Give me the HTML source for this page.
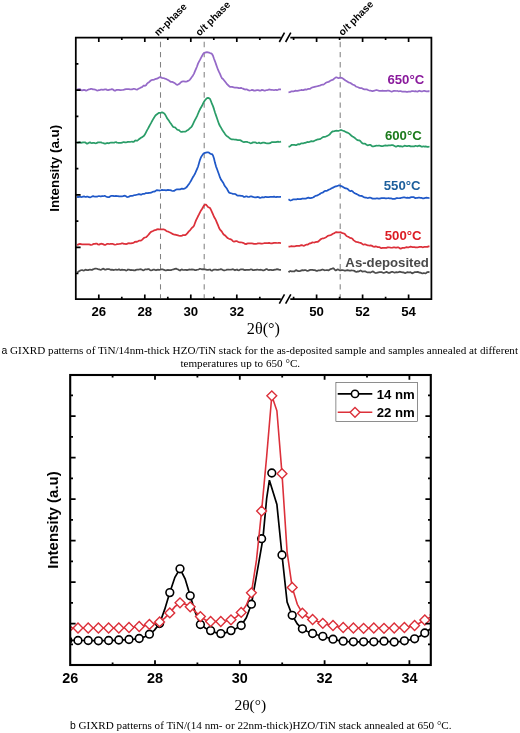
<!DOCTYPE html>
<html><head><meta charset="utf-8"><title>GIXRD patterns</title>
<style>html,body{margin:0;padding:0;background:#fff}svg{display:block}</style>
</head><body>
<svg width="520" height="733" viewBox="0 0 520 733">
<rect width="520" height="733" fill="#fff"/>
<defs><clipPath id="cb"><rect x="70.2" y="375.0" width="360.6" height="290.0"/></clipPath></defs>
<g id="plot-a">
<path d="M160.5,41.8 V298" stroke="#828282" stroke-width="1.05" stroke-dasharray="5.4,4.7" fill="none"/>
<path d="M204.2,41.8 V298" stroke="#828282" stroke-width="1.05" stroke-dasharray="5.4,4.7" fill="none"/>
<path d="M340.2,41.8 V298" stroke="#828282" stroke-width="1.05" stroke-dasharray="5.4,4.7" fill="none"/>
<path d="M77.0,272.56 L78.0,272.01 L79.0,271.27 L80.0,270.65 L81.0,270.25 L82.0,270.03 L83.0,270.35 L84.0,270.53 L85.0,269.95 L86.0,269.72 L87.0,270.09 L88.0,270.19 L89.0,269.83 L90.0,269.53 L91.0,269.81 L92.0,269.86 L93.0,269.35 L94.0,269.00 L95.0,268.71 L96.0,268.55 L97.0,268.77 L98.0,269.09 L99.0,269.30 L100.0,269.69 L101.0,269.88 L102.0,269.25 L103.0,268.65 L104.0,269.07 L105.0,269.70 L106.0,269.53 L107.0,269.12 L108.0,269.11 L109.0,269.15 L110.0,269.49 L111.0,269.90 L112.0,269.68 L113.0,269.80 L114.0,270.03 L115.0,269.72 L116.0,269.66 L117.0,269.83 L118.0,269.60 L119.0,269.34 L120.0,269.86 L121.0,270.05 L122.0,269.62 L123.0,269.86 L124.0,269.89 L125.0,269.97 L126.0,270.62 L127.0,270.27 L128.0,269.49 L129.0,269.71 L130.0,270.01 L131.0,269.98 L132.0,270.02 L133.0,270.04 L134.0,270.34 L135.0,270.37 L136.0,269.86 L137.0,269.65 L138.0,269.68 L139.0,269.52 L140.0,269.23 L141.0,269.29 L142.0,269.79 L143.0,270.35 L144.0,270.17 L145.0,269.34 L146.0,269.35 L147.0,269.50 L148.0,269.04 L149.0,269.20 L150.0,269.92 L151.0,270.42 L152.0,270.26 L153.0,269.73 L154.0,269.54 L155.0,269.93 L156.0,270.27 L157.0,269.87 L158.0,269.66 L159.0,269.86 L160.0,269.78 L161.0,269.47 L162.0,269.31 L163.0,269.48 L164.0,269.85 L165.0,270.31 L166.0,270.29 L167.0,270.05 L168.0,269.99 L169.0,270.01 L170.0,270.15 L171.0,270.12 L172.0,269.77 L173.0,269.47 L174.0,269.34 L175.0,268.79 L176.0,268.59 L177.0,269.09 L178.0,269.41 L179.0,270.13 L180.0,270.56 L181.0,269.79 L182.0,269.43 L183.0,269.86 L184.0,270.00 L185.0,269.79 L186.0,269.82 L187.0,270.14 L188.0,269.94 L189.0,269.47 L190.0,269.57 L191.0,269.59 L192.0,269.44 L193.0,269.52 L194.0,269.70 L195.0,270.06 L196.0,270.09 L197.0,269.76 L198.0,269.56 L199.0,269.23 L200.0,268.75 L201.0,269.02 L202.0,269.29 L203.0,269.19 L204.0,269.37 L205.0,269.43 L206.0,269.59 L207.0,269.78 L208.0,269.98 L209.0,269.72 L210.0,269.48 L211.0,270.31 L212.0,270.64 L213.0,270.04 L214.0,269.68 L215.0,269.53 L216.0,269.65 L217.0,269.99 L218.0,269.85 L219.0,269.58 L220.0,269.42 L221.0,269.21 L222.0,269.50 L223.0,270.10 L224.0,270.28 L225.0,270.26 L226.0,269.97 L227.0,269.57 L228.0,269.54 L229.0,269.64 L230.0,269.75 L231.0,269.73 L232.0,269.47 L233.0,269.17 L234.0,269.68 L235.0,270.32 L236.0,269.81 L237.0,269.48 L238.0,270.18 L239.0,270.31 L240.0,269.64 L241.0,269.48 L242.0,269.34 L243.0,269.31 L244.0,269.93 L245.0,270.15 L246.0,269.87 L247.0,269.80 L248.0,269.92 L249.0,269.85 L250.0,269.61 L251.0,269.28 L252.0,269.55 L253.0,270.18 L254.0,270.10 L255.0,269.97 L256.0,269.90 L257.0,269.64 L258.0,269.74 L259.0,269.98 L260.0,269.84 L261.0,269.72 L262.0,270.02 L263.0,270.38 L264.0,270.32 L265.0,269.88 L266.0,269.24 L267.0,269.16 L268.0,269.89 L269.0,270.10 L270.0,269.76 L271.0,269.82 L272.0,270.02 L273.0,270.06 L274.0,269.79 L275.0,269.60 L276.0,269.52 L277.0,269.18 L278.0,269.35 L279.0,269.66 L280.0,269.89 L281.0,269.95" fill="none" stroke="#4c4c4c" stroke-width="1.75" stroke-linejoin="round"/>
<path d="M288.5,272.26 L289.5,271.32 L290.5,271.00 L291.5,271.45 L292.5,271.34 L293.5,271.47 L294.5,271.45 L295.5,270.46 L296.5,270.18 L297.5,270.93 L298.5,271.19 L299.5,271.03 L300.5,270.84 L301.5,270.35 L302.5,270.12 L303.5,270.31 L304.5,270.07 L305.5,270.02 L306.5,270.59 L307.5,270.83 L308.5,270.58 L309.5,270.13 L310.5,269.87 L311.5,269.77 L312.5,269.92 L313.5,270.14 L314.5,270.15 L315.5,270.37 L316.5,270.90 L317.5,270.86 L318.5,270.26 L319.5,270.27 L320.5,270.33 L321.5,269.86 L322.5,269.49 L323.5,269.82 L324.5,270.32 L325.5,270.25 L326.5,270.06 L327.5,270.22 L328.5,270.48 L329.5,269.85 L330.5,269.03 L331.5,268.93 L332.5,268.46 L333.5,268.23 L334.5,269.42 L335.5,270.45 L336.5,270.06 L337.5,269.36 L338.5,269.62 L339.5,270.30 L340.5,270.30 L341.5,270.06 L342.5,270.05 L343.5,270.26 L344.5,270.59 L345.5,270.64 L346.5,270.28 L347.5,270.10 L348.5,270.32 L349.5,270.60 L350.5,270.68 L351.5,270.41 L352.5,270.50 L353.5,270.60 L354.5,270.78 L355.5,271.75 L356.5,271.94 L357.5,271.44 L358.5,271.55 L359.5,271.12 L360.5,270.50 L361.5,271.07 L362.5,271.62 L363.5,271.46 L364.5,271.26 L365.5,271.44 L366.5,271.97 L367.5,272.41 L368.5,272.32 L369.5,272.36 L370.5,272.51 L371.5,272.04 L372.5,271.43 L373.5,271.59 L374.5,272.55 L375.5,273.00 L376.5,272.83 L377.5,272.62 L378.5,272.39 L379.5,272.24 L380.5,272.10 L381.5,272.09 L382.5,272.51 L383.5,272.97 L384.5,272.76 L385.5,272.23 L386.5,271.90 L387.5,272.24 L388.5,272.91 L389.5,272.84 L390.5,272.37 L391.5,271.98 L392.5,271.81 L393.5,272.27 L394.5,272.61 L395.5,272.33 L396.5,272.16 L397.5,272.27 L398.5,272.07 L399.5,271.73 L400.5,271.82 L401.5,272.20 L402.5,272.45 L403.5,272.41 L404.5,272.82 L405.5,273.11 L406.5,272.52 L407.5,272.20 L408.5,272.43 L409.5,272.32 L410.5,272.18 L411.5,272.88 L412.5,273.35 L413.5,272.77 L414.5,272.18 L415.5,272.13 L416.5,272.20 L417.5,271.88 L418.5,272.11 L419.5,272.66 L420.5,272.67 L421.5,273.12 L422.5,273.45 L423.5,273.09 L424.5,273.24 L425.5,273.43 L426.5,272.78 L427.5,272.04 L428.5,271.94 L429.5,272.34" fill="none" stroke="#4c4c4c" stroke-width="1.75" stroke-linejoin="round"/>
<path d="M77.0,244.86 L78.0,244.65 L79.0,244.04 L80.0,243.85 L81.0,244.07 L82.0,244.28 L83.0,244.31 L84.0,244.37 L85.0,244.37 L86.0,244.25 L87.0,244.28 L88.0,244.34 L89.0,244.38 L90.0,244.70 L91.0,245.00 L92.0,244.75 L93.0,244.16 L94.0,243.88 L95.0,243.89 L96.0,243.59 L97.0,243.74 L98.0,244.44 L99.0,244.60 L100.0,244.11 L101.0,243.73 L102.0,243.84 L103.0,244.13 L104.0,244.69 L105.0,245.05 L106.0,244.54 L107.0,243.89 L108.0,243.78 L109.0,244.01 L110.0,243.98 L111.0,243.84 L112.0,243.87 L113.0,243.99 L114.0,244.43 L115.0,244.73 L116.0,244.48 L117.0,244.16 L118.0,244.10 L119.0,244.00 L120.0,243.82 L121.0,243.64 L122.0,243.33 L123.0,243.45 L124.0,243.91 L125.0,243.98 L126.0,244.04 L127.0,243.89 L128.0,243.30 L129.0,243.20 L130.0,243.47 L131.0,243.34 L132.0,243.11 L133.0,243.03 L134.0,242.53 L135.0,241.78 L136.0,241.62 L137.0,241.80 L138.0,241.27 L139.0,240.63 L140.0,240.70 L141.0,240.58 L142.0,239.89 L143.0,238.90 L144.0,237.89 L145.0,237.50 L146.0,237.27 L147.0,236.40 L148.0,235.28 L149.0,234.10 L150.0,232.91 L151.0,231.88 L152.0,231.42 L153.0,231.05 L154.0,230.42 L155.0,230.23 L156.0,229.90 L157.0,229.36 L158.0,229.22 L159.0,229.31 L160.0,229.34 L161.0,229.26 L162.0,229.29 L163.0,229.46 L164.0,229.47 L165.0,229.80 L166.0,230.73 L167.0,231.33 L168.0,231.49 L169.0,232.01 L170.0,232.47 L171.0,232.96 L172.0,233.63 L173.0,234.15 L174.0,234.54 L175.0,234.65 L176.0,234.88 L177.0,235.11 L178.0,235.35 L179.0,235.76 L180.0,235.93 L181.0,235.90 L182.0,235.56 L183.0,235.17 L184.0,235.10 L185.0,235.08 L186.0,234.65 L187.0,233.68 L188.0,232.41 L189.0,231.24 L190.0,230.28 L191.0,228.97 L192.0,227.70 L193.0,227.05 L194.0,225.75 L195.0,222.98 L196.0,220.36 L197.0,218.26 L198.0,216.27 L199.0,214.43 L200.0,212.32 L201.0,210.46 L202.0,208.96 L203.0,207.20 L204.0,205.57 L205.0,204.61 L206.0,204.64 L207.0,205.73 L208.0,206.98 L209.0,207.44 L210.0,208.04 L211.0,209.88 L212.0,212.05 L213.0,214.42 L214.0,216.76 L215.0,218.44 L216.0,220.41 L217.0,222.79 L218.0,225.20 L219.0,227.73 L220.0,229.57 L221.0,230.65 L222.0,231.88 L223.0,233.64 L224.0,234.83 L225.0,235.37 L226.0,236.39 L227.0,237.51 L228.0,238.30 L229.0,238.75 L230.0,239.05 L231.0,239.37 L232.0,240.14 L233.0,241.22 L234.0,241.58 L235.0,241.38 L236.0,241.17 L237.0,241.24 L238.0,241.76 L239.0,242.25 L240.0,242.46 L241.0,242.47 L242.0,242.50 L243.0,242.83 L244.0,243.34 L245.0,243.94 L246.0,244.12 L247.0,243.62 L248.0,243.31 L249.0,243.40 L250.0,243.37 L251.0,243.40 L252.0,243.47 L253.0,243.55 L254.0,243.80 L255.0,243.89 L256.0,243.83 L257.0,243.67 L258.0,243.40 L259.0,243.34 L260.0,243.45 L261.0,243.55 L262.0,243.67 L263.0,243.49 L264.0,243.24 L265.0,243.22 L266.0,243.09 L267.0,243.12 L268.0,243.03 L269.0,242.84 L270.0,243.19 L271.0,243.44 L272.0,243.29 L273.0,243.14 L274.0,242.99 L275.0,242.89 L276.0,242.93 L277.0,243.00 L278.0,242.92 L279.0,242.81 L280.0,242.98 L281.0,243.10" fill="none" stroke="#dc303a" stroke-width="1.75" stroke-linejoin="round"/>
<path d="M288.5,246.70 L289.5,246.64 L290.5,246.46 L291.5,246.17 L292.5,246.33 L293.5,246.47 L294.5,246.36 L295.5,246.14 L296.5,245.80 L297.5,245.78 L298.5,245.95 L299.5,245.88 L300.5,245.44 L301.5,245.10 L302.5,245.43 L303.5,245.77 L304.5,245.59 L305.5,244.95 L306.5,244.53 L307.5,244.66 L308.5,244.15 L309.5,243.45 L310.5,243.35 L311.5,242.89 L312.5,242.39 L313.5,242.50 L314.5,242.53 L315.5,242.04 L316.5,241.80 L317.5,241.87 L318.5,241.37 L319.5,240.39 L320.5,239.50 L321.5,238.79 L322.5,238.47 L323.5,238.35 L324.5,237.95 L325.5,237.47 L326.5,236.89 L327.5,236.07 L328.5,235.62 L329.5,235.45 L330.5,235.12 L331.5,234.69 L332.5,234.04 L333.5,233.48 L334.5,233.07 L335.5,232.38 L336.5,232.04 L337.5,232.30 L338.5,232.41 L339.5,232.26 L340.5,232.23 L341.5,232.67 L342.5,233.15 L343.5,233.32 L344.5,233.71 L345.5,234.82 L346.5,235.96 L347.5,236.46 L348.5,236.84 L349.5,237.62 L350.5,238.03 L351.5,238.07 L352.5,238.96 L353.5,240.07 L354.5,240.86 L355.5,241.57 L356.5,241.90 L357.5,242.01 L358.5,242.39 L359.5,242.75 L360.5,242.90 L361.5,243.36 L362.5,244.19 L363.5,244.61 L364.5,244.42 L365.5,244.42 L366.5,244.89 L367.5,245.27 L368.5,245.48 L369.5,245.60 L370.5,245.49 L371.5,245.63 L372.5,246.15 L373.5,246.72 L374.5,246.80 L375.5,246.38 L376.5,246.57 L377.5,247.08 L378.5,247.04 L379.5,247.17 L380.5,247.81 L381.5,248.06 L382.5,247.84 L383.5,247.78 L384.5,247.88 L385.5,247.92 L386.5,247.83 L387.5,247.44 L388.5,247.31 L389.5,247.48 L390.5,247.56 L391.5,247.75 L392.5,247.64 L393.5,247.37 L394.5,247.41 L395.5,247.60 L396.5,247.67 L397.5,247.42 L398.5,247.48 L399.5,248.11 L400.5,248.60 L401.5,248.39 L402.5,247.81 L403.5,247.75 L404.5,247.90 L405.5,247.48 L406.5,247.14 L407.5,247.37 L408.5,247.43 L409.5,246.98 L410.5,246.57 L411.5,246.80 L412.5,247.22 L413.5,247.18 L414.5,247.19 L415.5,247.42 L416.5,247.43 L417.5,247.31 L418.5,247.19 L419.5,246.95 L420.5,246.78 L421.5,246.94 L422.5,247.27 L423.5,247.11 L424.5,246.76 L425.5,246.75 L426.5,246.93 L427.5,246.85 L428.5,246.36 L429.5,246.29" fill="none" stroke="#dc303a" stroke-width="1.75" stroke-linejoin="round"/>
<path d="M77.0,196.56 L78.0,197.13 L79.0,196.95 L80.0,196.55 L81.0,196.84 L82.0,197.03 L83.0,196.55 L84.0,196.42 L85.0,196.77 L86.0,196.83 L87.0,196.61 L88.0,196.66 L89.0,197.17 L90.0,197.30 L91.0,196.97 L92.0,196.46 L93.0,196.08 L94.0,196.35 L95.0,196.59 L96.0,196.69 L97.0,196.71 L98.0,196.25 L99.0,196.02 L100.0,196.26 L101.0,196.29 L102.0,196.21 L103.0,196.23 L104.0,195.98 L105.0,195.96 L106.0,196.55 L107.0,196.91 L108.0,197.14 L109.0,197.23 L110.0,196.53 L111.0,195.86 L112.0,195.81 L113.0,195.95 L114.0,196.19 L115.0,196.16 L116.0,195.98 L117.0,196.09 L118.0,196.16 L119.0,196.35 L120.0,196.47 L121.0,196.37 L122.0,196.32 L123.0,196.16 L124.0,195.86 L125.0,195.70 L126.0,196.21 L127.0,196.91 L128.0,197.02 L129.0,196.65 L130.0,196.07 L131.0,195.78 L132.0,195.86 L133.0,195.63 L134.0,195.25 L135.0,195.10 L136.0,194.95 L137.0,194.74 L138.0,194.46 L139.0,194.15 L140.0,194.42 L141.0,194.77 L142.0,194.27 L143.0,193.82 L144.0,193.87 L145.0,193.59 L146.0,193.04 L147.0,193.01 L148.0,193.18 L149.0,192.94 L150.0,192.81 L151.0,192.68 L152.0,192.15 L153.0,191.74 L154.0,191.70 L155.0,191.39 L156.0,190.56 L157.0,190.15 L158.0,190.27 L159.0,190.41 L160.0,190.53 L161.0,190.26 L162.0,189.88 L163.0,190.05 L164.0,190.14 L165.0,190.18 L166.0,190.39 L167.0,190.11 L168.0,189.92 L169.0,190.15 L170.0,190.22 L171.0,190.43 L172.0,190.78 L173.0,190.99 L174.0,190.97 L175.0,190.30 L176.0,189.61 L177.0,189.45 L178.0,189.29 L179.0,189.25 L180.0,189.36 L181.0,188.94 L182.0,188.62 L183.0,188.87 L184.0,188.82 L185.0,188.34 L186.0,187.71 L187.0,186.75 L188.0,185.35 L189.0,183.92 L190.0,182.37 L191.0,180.73 L192.0,178.89 L193.0,176.98 L194.0,175.41 L195.0,173.74 L196.0,171.46 L197.0,169.07 L198.0,166.74 L199.0,163.37 L200.0,159.86 L201.0,157.21 L202.0,155.62 L203.0,154.14 L204.0,153.27 L205.0,152.87 L206.0,152.62 L207.0,152.49 L208.0,152.38 L209.0,152.67 L210.0,153.57 L211.0,154.05 L212.0,154.08 L213.0,155.50 L214.0,158.45 L215.0,162.83 L216.0,166.33 L217.0,169.06 L218.0,171.73 L219.0,174.49 L220.0,177.45 L221.0,179.60 L222.0,180.93 L223.0,182.47 L224.0,184.48 L225.0,186.29 L226.0,187.57 L227.0,188.81 L228.0,190.78 L229.0,192.50 L230.0,193.12 L231.0,193.24 L232.0,193.50 L233.0,193.95 L234.0,194.00 L235.0,193.96 L236.0,194.55 L237.0,195.29 L238.0,195.59 L239.0,195.63 L240.0,195.66 L241.0,195.78 L242.0,195.77 L243.0,196.22 L244.0,196.95 L245.0,196.79 L246.0,196.35 L247.0,196.45 L248.0,196.84 L249.0,197.00 L250.0,196.54 L251.0,196.23 L252.0,196.57 L253.0,196.93 L254.0,197.21 L255.0,197.44 L256.0,197.40 L257.0,197.12 L258.0,196.92 L259.0,197.39 L260.0,197.84 L261.0,197.56 L262.0,197.21 L263.0,197.34 L264.0,197.40 L265.0,196.97 L266.0,196.90 L267.0,197.22 L268.0,197.22 L269.0,197.03 L270.0,196.99 L271.0,196.98 L272.0,196.98 L273.0,196.81 L274.0,196.65 L275.0,196.96 L276.0,197.11 L277.0,196.81 L278.0,196.89 L279.0,197.00 L280.0,196.81 L281.0,196.90" fill="none" stroke="#1f58c8" stroke-width="1.75" stroke-linejoin="round"/>
<path d="M288.5,199.36 L289.5,199.96 L290.5,200.52 L291.5,200.24 L292.5,199.63 L293.5,199.44 L294.5,199.33 L295.5,199.38 L296.5,199.32 L297.5,198.97 L298.5,199.02 L299.5,199.18 L300.5,199.19 L301.5,198.85 L302.5,198.50 L303.5,198.64 L304.5,198.74 L305.5,198.59 L306.5,198.39 L307.5,197.83 L308.5,197.55 L309.5,198.04 L310.5,198.20 L311.5,197.82 L312.5,197.57 L313.5,197.27 L314.5,196.53 L315.5,195.88 L316.5,195.74 L317.5,195.39 L318.5,194.71 L319.5,194.28 L320.5,193.49 L321.5,192.87 L322.5,192.75 L323.5,192.02 L324.5,191.12 L325.5,190.92 L326.5,190.99 L327.5,190.55 L328.5,189.78 L329.5,189.38 L330.5,188.95 L331.5,188.29 L332.5,187.88 L333.5,187.40 L334.5,186.80 L335.5,186.45 L336.5,186.29 L337.5,185.94 L338.5,185.49 L339.5,185.48 L340.5,185.83 L341.5,186.13 L342.5,186.67 L343.5,187.28 L344.5,187.92 L345.5,188.36 L346.5,188.48 L347.5,188.92 L348.5,189.75 L349.5,190.79 L350.5,191.11 L351.5,190.72 L352.5,191.24 L353.5,192.39 L354.5,193.16 L355.5,193.56 L356.5,193.91 L357.5,194.53 L358.5,195.11 L359.5,195.63 L360.5,195.85 L361.5,195.89 L362.5,196.37 L363.5,196.96 L364.5,197.48 L365.5,197.65 L366.5,197.74 L367.5,198.03 L368.5,197.95 L369.5,197.68 L370.5,197.71 L371.5,198.14 L372.5,198.59 L373.5,198.65 L374.5,198.56 L375.5,198.58 L376.5,198.44 L377.5,198.36 L378.5,198.60 L379.5,198.64 L380.5,198.32 L381.5,198.16 L382.5,198.23 L383.5,198.17 L384.5,198.20 L385.5,198.41 L386.5,198.40 L387.5,198.25 L388.5,198.17 L389.5,198.32 L390.5,198.38 L391.5,198.49 L392.5,198.83 L393.5,198.89 L394.5,198.93 L395.5,198.65 L396.5,198.09 L397.5,198.04 L398.5,198.25 L399.5,198.24 L400.5,198.12 L401.5,197.78 L402.5,197.51 L403.5,197.44 L404.5,197.46 L405.5,197.74 L406.5,197.79 L407.5,197.69 L408.5,197.89 L409.5,197.85 L410.5,197.37 L411.5,197.12 L412.5,197.12 L413.5,197.08 L414.5,197.61 L415.5,198.11 L416.5,197.95 L417.5,197.76 L418.5,197.65 L419.5,197.74 L420.5,197.83 L421.5,197.90 L422.5,198.28 L423.5,198.48 L424.5,198.18 L425.5,197.77 L426.5,197.65 L427.5,197.82 L428.5,197.95 L429.5,198.01" fill="none" stroke="#1f58c8" stroke-width="1.75" stroke-linejoin="round"/>
<path d="M77.0,142.74 L78.0,142.75 L79.0,142.21 L80.0,142.37 L81.0,142.81 L82.0,142.59 L83.0,142.39 L84.0,142.35 L85.0,142.35 L86.0,142.99 L87.0,143.71 L88.0,143.37 L89.0,142.59 L90.0,142.42 L91.0,142.82 L92.0,143.04 L93.0,142.76 L94.0,142.77 L95.0,143.25 L96.0,143.30 L97.0,142.85 L98.0,142.40 L99.0,142.29 L100.0,142.25 L101.0,142.36 L102.0,142.80 L103.0,142.99 L104.0,143.31 L105.0,143.76 L106.0,143.42 L107.0,142.94 L108.0,143.22 L109.0,143.31 L110.0,142.76 L111.0,142.54 L112.0,142.53 L113.0,142.65 L114.0,142.75 L115.0,142.25 L116.0,142.17 L117.0,142.59 L118.0,142.76 L119.0,142.87 L120.0,142.87 L121.0,142.91 L122.0,142.71 L123.0,142.20 L124.0,142.15 L125.0,142.28 L126.0,142.32 L127.0,142.18 L128.0,141.77 L129.0,141.75 L130.0,141.99 L131.0,141.75 L132.0,141.57 L133.0,142.00 L134.0,141.65 L135.0,140.54 L136.0,140.49 L137.0,140.77 L138.0,140.12 L139.0,139.22 L140.0,138.48 L141.0,137.81 L142.0,137.15 L143.0,136.52 L144.0,135.78 L145.0,134.31 L146.0,132.35 L147.0,130.44 L148.0,128.68 L149.0,126.77 L150.0,124.93 L151.0,123.17 L152.0,121.20 L153.0,119.41 L154.0,117.70 L155.0,116.12 L156.0,114.93 L157.0,114.19 L158.0,113.47 L159.0,112.87 L160.0,112.78 L161.0,112.62 L162.0,112.43 L163.0,112.71 L164.0,113.26 L165.0,114.37 L166.0,116.20 L167.0,118.11 L168.0,119.43 L169.0,120.87 L170.0,122.47 L171.0,123.75 L172.0,125.29 L173.0,126.71 L174.0,127.24 L175.0,127.40 L176.0,128.29 L177.0,129.47 L178.0,129.88 L179.0,130.20 L180.0,131.10 L181.0,131.91 L182.0,131.94 L183.0,131.67 L184.0,131.75 L185.0,131.74 L186.0,131.16 L187.0,130.53 L188.0,130.03 L189.0,129.15 L190.0,128.09 L191.0,127.32 L192.0,126.14 L193.0,124.07 L194.0,121.91 L195.0,119.92 L196.0,118.05 L197.0,116.12 L198.0,113.77 L199.0,111.41 L200.0,109.28 L201.0,107.48 L202.0,105.76 L203.0,103.64 L204.0,101.66 L205.0,100.22 L206.0,99.07 L207.0,98.20 L208.0,97.95 L209.0,98.20 L210.0,98.86 L211.0,101.23 L212.0,103.99 L213.0,106.15 L214.0,109.14 L215.0,112.46 L216.0,115.34 L217.0,118.28 L218.0,121.24 L219.0,124.00 L220.0,126.01 L221.0,127.61 L222.0,129.42 L223.0,130.98 L224.0,132.39 L225.0,133.94 L226.0,135.31 L227.0,136.18 L228.0,136.78 L229.0,137.68 L230.0,138.53 L231.0,139.08 L232.0,139.34 L233.0,139.28 L234.0,139.49 L235.0,139.72 L236.0,139.71 L237.0,139.97 L238.0,140.24 L239.0,140.21 L240.0,140.18 L241.0,140.56 L242.0,141.27 L243.0,141.86 L244.0,142.04 L245.0,141.89 L246.0,141.77 L247.0,141.91 L248.0,142.24 L249.0,142.51 L250.0,142.98 L251.0,143.31 L252.0,142.86 L253.0,142.36 L254.0,142.31 L255.0,142.28 L256.0,142.63 L257.0,143.23 L258.0,143.01 L259.0,142.65 L260.0,143.09 L261.0,143.32 L262.0,142.87 L263.0,142.57 L264.0,142.68 L265.0,142.93 L266.0,143.16 L267.0,143.33 L268.0,143.36 L269.0,143.32 L270.0,143.20 L271.0,142.63 L272.0,142.01 L273.0,142.07 L274.0,142.21 L275.0,142.16 L276.0,142.14 L277.0,141.76 L278.0,141.64 L279.0,142.00 L280.0,141.93 L281.0,141.53" fill="none" stroke="#2a9d68" stroke-width="1.75" stroke-linejoin="round"/>
<path d="M288.5,146.72 L289.5,146.61 L290.5,145.83 L291.5,144.99 L292.5,144.94 L293.5,144.99 L294.5,144.84 L295.5,145.04 L296.5,145.05 L297.5,144.41 L298.5,144.22 L299.5,144.46 L300.5,143.87 L301.5,143.28 L302.5,143.40 L303.5,143.27 L304.5,142.96 L305.5,142.81 L306.5,142.35 L307.5,141.95 L308.5,142.04 L309.5,141.91 L310.5,141.46 L311.5,141.20 L312.5,141.35 L313.5,141.33 L314.5,140.73 L315.5,140.31 L316.5,139.87 L317.5,139.43 L318.5,139.35 L319.5,139.22 L320.5,138.86 L321.5,138.13 L322.5,137.34 L323.5,136.97 L324.5,136.85 L325.5,136.68 L326.5,136.29 L327.5,135.67 L328.5,135.18 L329.5,134.59 L330.5,133.41 L331.5,132.20 L332.5,131.46 L333.5,131.27 L334.5,131.19 L335.5,130.80 L336.5,130.72 L337.5,130.82 L338.5,130.81 L339.5,130.53 L340.5,130.11 L341.5,130.14 L342.5,130.52 L343.5,130.87 L344.5,131.16 L345.5,131.86 L346.5,132.43 L347.5,132.58 L348.5,133.14 L349.5,133.91 L350.5,134.84 L351.5,135.76 L352.5,136.49 L353.5,137.07 L354.5,137.70 L355.5,138.65 L356.5,139.41 L357.5,140.11 L358.5,140.39 L359.5,140.39 L360.5,141.22 L361.5,142.48 L362.5,143.31 L363.5,143.60 L364.5,143.60 L365.5,143.89 L366.5,144.81 L367.5,145.33 L368.5,145.08 L369.5,144.77 L370.5,144.86 L371.5,145.77 L372.5,146.44 L373.5,146.27 L374.5,146.09 L375.5,145.79 L376.5,145.63 L377.5,145.75 L378.5,145.53 L379.5,145.55 L380.5,145.96 L381.5,146.17 L382.5,146.14 L383.5,145.93 L384.5,145.54 L385.5,145.44 L386.5,145.66 L387.5,145.57 L388.5,145.31 L389.5,145.37 L390.5,145.42 L391.5,145.23 L392.5,145.16 L393.5,145.44 L394.5,145.97 L395.5,146.55 L396.5,146.56 L397.5,145.92 L398.5,145.90 L399.5,146.33 L400.5,146.23 L401.5,146.35 L402.5,146.64 L403.5,146.24 L404.5,145.70 L405.5,145.78 L406.5,146.24 L407.5,146.23 L408.5,145.80 L409.5,145.90 L410.5,146.40 L411.5,146.45 L412.5,146.29 L413.5,146.47 L414.5,146.30 L415.5,145.82 L416.5,146.01 L417.5,146.29 L418.5,145.89 L419.5,145.56 L420.5,146.02 L421.5,146.70 L422.5,146.55 L423.5,146.27 L424.5,146.57 L425.5,146.49 L426.5,146.59 L427.5,146.93 L428.5,146.78 L429.5,146.48" fill="none" stroke="#2a9d68" stroke-width="1.75" stroke-linejoin="round"/>
<path d="M77.0,89.26 L78.0,89.43 L79.0,89.06 L80.0,89.14 L81.0,90.13 L82.0,90.47 L83.0,90.11 L84.0,89.84 L85.0,90.17 L86.0,90.56 L87.0,90.36 L88.0,89.74 L89.0,89.34 L90.0,89.19 L91.0,88.84 L92.0,88.96 L93.0,89.40 L94.0,89.48 L95.0,89.57 L96.0,90.01 L97.0,90.52 L98.0,90.44 L99.0,90.15 L100.0,90.03 L101.0,89.70 L102.0,89.72 L103.0,89.83 L104.0,89.53 L105.0,89.35 L106.0,89.40 L107.0,89.88 L108.0,90.18 L109.0,89.85 L110.0,89.63 L111.0,89.41 L112.0,89.16 L113.0,89.49 L114.0,90.38 L115.0,90.76 L116.0,90.18 L117.0,89.76 L118.0,89.85 L119.0,89.92 L120.0,90.02 L121.0,90.04 L122.0,90.00 L123.0,89.91 L124.0,89.63 L125.0,89.30 L126.0,89.10 L127.0,89.11 L128.0,89.16 L129.0,89.24 L130.0,89.30 L131.0,89.49 L132.0,89.42 L133.0,88.96 L134.0,88.79 L135.0,89.02 L136.0,89.51 L137.0,89.69 L138.0,89.11 L139.0,88.54 L140.0,88.05 L141.0,87.44 L142.0,87.09 L143.0,86.13 L144.0,85.44 L145.0,85.87 L146.0,85.21 L147.0,83.68 L148.0,82.79 L149.0,82.15 L150.0,81.28 L151.0,80.39 L152.0,79.98 L153.0,79.86 L154.0,79.60 L155.0,79.21 L156.0,78.91 L157.0,78.68 L158.0,78.14 L159.0,77.56 L160.0,77.11 L161.0,77.36 L162.0,77.95 L163.0,78.02 L164.0,78.25 L165.0,78.66 L166.0,78.94 L167.0,79.45 L168.0,79.98 L169.0,80.60 L170.0,81.42 L171.0,81.87 L172.0,81.91 L173.0,82.20 L174.0,82.78 L175.0,83.36 L176.0,84.19 L177.0,84.82 L178.0,84.57 L179.0,84.07 L180.0,83.23 L181.0,82.17 L182.0,81.60 L183.0,81.45 L184.0,81.47 L185.0,81.60 L186.0,81.65 L187.0,81.36 L188.0,80.89 L189.0,80.46 L190.0,79.52 L191.0,78.14 L192.0,76.81 L193.0,75.40 L194.0,73.58 L195.0,71.15 L196.0,68.82 L197.0,66.50 L198.0,63.62 L199.0,61.61 L200.0,59.92 L201.0,57.84 L202.0,56.04 L203.0,54.12 L204.0,53.01 L205.0,52.70 L206.0,52.39 L207.0,52.20 L208.0,52.30 L209.0,52.58 L210.0,53.06 L211.0,53.37 L212.0,53.98 L213.0,55.70 L214.0,58.73 L215.0,61.31 L216.0,64.11 L217.0,66.93 L218.0,69.71 L219.0,71.92 L220.0,73.88 L221.0,76.43 L222.0,78.29 L223.0,78.99 L224.0,80.22 L225.0,81.54 L226.0,82.83 L227.0,84.20 L228.0,85.04 L229.0,86.00 L230.0,86.81 L231.0,86.83 L232.0,86.86 L233.0,87.10 L234.0,87.46 L235.0,87.74 L236.0,87.71 L237.0,87.73 L238.0,87.84 L239.0,88.19 L240.0,88.09 L241.0,87.84 L242.0,88.28 L243.0,88.62 L244.0,89.11 L245.0,89.58 L246.0,89.27 L247.0,89.43 L248.0,90.12 L249.0,90.41 L250.0,90.52 L251.0,90.23 L252.0,89.85 L253.0,90.14 L254.0,90.63 L255.0,90.62 L256.0,90.34 L257.0,90.21 L258.0,90.12 L259.0,90.35 L260.0,90.75 L261.0,90.40 L262.0,89.88 L263.0,90.09 L264.0,90.54 L265.0,90.58 L266.0,90.24 L267.0,90.04 L268.0,89.86 L269.0,89.45 L270.0,89.54 L271.0,89.94 L272.0,89.90 L273.0,90.00 L274.0,90.20 L275.0,89.98 L276.0,89.93 L277.0,90.16 L278.0,89.80 L279.0,89.35 L280.0,89.37 L281.0,89.28" fill="none" stroke="#9569c8" stroke-width="1.75" stroke-linejoin="round"/>
<path d="M288.5,92.26 L289.5,92.20 L290.5,91.83 L291.5,91.36 L292.5,91.44 L293.5,91.47 L294.5,91.06 L295.5,90.69 L296.5,90.77 L297.5,90.90 L298.5,90.62 L299.5,90.36 L300.5,90.25 L301.5,89.94 L302.5,90.02 L303.5,90.15 L304.5,89.65 L305.5,89.47 L306.5,89.57 L307.5,89.20 L308.5,88.89 L309.5,88.97 L310.5,88.59 L311.5,87.71 L312.5,87.34 L313.5,87.18 L314.5,86.85 L315.5,86.58 L316.5,86.44 L317.5,86.25 L318.5,85.85 L319.5,85.65 L320.5,85.34 L321.5,84.79 L322.5,84.69 L323.5,84.65 L324.5,83.91 L325.5,83.08 L326.5,82.52 L327.5,82.04 L328.5,81.85 L329.5,81.43 L330.5,80.60 L331.5,80.22 L332.5,79.97 L333.5,79.20 L334.5,78.38 L335.5,77.65 L336.5,77.28 L337.5,77.75 L338.5,78.24 L339.5,77.95 L340.5,77.65 L341.5,77.82 L342.5,78.35 L343.5,78.99 L344.5,79.70 L345.5,80.44 L346.5,81.02 L347.5,81.68 L348.5,82.33 L349.5,82.68 L350.5,82.97 L351.5,83.69 L352.5,84.50 L353.5,84.79 L354.5,85.23 L355.5,86.19 L356.5,86.73 L357.5,86.99 L358.5,87.43 L359.5,87.93 L360.5,88.22 L361.5,88.20 L362.5,88.52 L363.5,89.16 L364.5,89.44 L365.5,89.45 L366.5,89.48 L367.5,89.68 L368.5,90.22 L369.5,90.51 L370.5,90.55 L371.5,90.97 L372.5,91.03 L373.5,90.80 L374.5,90.71 L375.5,90.27 L376.5,89.99 L377.5,90.26 L378.5,90.64 L379.5,90.81 L380.5,90.90 L381.5,90.77 L382.5,90.63 L383.5,90.83 L384.5,90.79 L385.5,90.79 L386.5,90.89 L387.5,90.69 L388.5,90.59 L389.5,90.81 L390.5,91.24 L391.5,91.55 L392.5,91.40 L393.5,90.98 L394.5,90.80 L395.5,90.99 L396.5,91.00 L397.5,90.96 L398.5,91.29 L399.5,91.23 L400.5,91.05 L401.5,91.43 L402.5,91.70 L403.5,91.70 L404.5,91.67 L405.5,91.67 L406.5,91.85 L407.5,91.82 L408.5,91.66 L409.5,91.72 L410.5,91.57 L411.5,91.22 L412.5,91.01 L413.5,91.20 L414.5,91.31 L415.5,91.15 L416.5,91.38 L417.5,91.57 L418.5,91.16 L419.5,90.75 L420.5,91.11 L421.5,91.44 L422.5,91.28 L423.5,90.98 L424.5,90.84 L425.5,91.19 L426.5,91.48 L427.5,91.35 L428.5,91.17 L429.5,91.43" fill="none" stroke="#9569c8" stroke-width="1.75" stroke-linejoin="round"/>
<path d="M280.8,37.5 H75.8 V299.1 H280.8 M290.3,299.1 H431.4 V37.5 H290.3" fill="none" stroke="#000" stroke-width="1.75" stroke-linejoin="miter" stroke-linecap="butt"/>
<path d="M279.3,42.0 L284.5,32.7" stroke="#000" stroke-width="1.6" fill="none"/>
<path d="M285.6,42.0 L290.8,32.7" stroke="#000" stroke-width="1.6" fill="none"/>
<path d="M279.3,303.6 L284.5,294.3" stroke="#000" stroke-width="1.6" fill="none"/>
<path d="M285.6,303.6 L290.8,294.3" stroke="#000" stroke-width="1.6" fill="none"/>
<path d="M98.8,37.5 v4.6 M98.8,299.1 v-4.6 M121.8,37.5 v2.4 M121.8,299.1 v-2.4 M144.8,37.5 v4.6 M144.8,299.1 v-4.6 M167.8,37.5 v2.4 M167.8,299.1 v-2.4 M190.8,37.5 v4.6 M190.8,299.1 v-4.6 M213.8,37.5 v2.4 M213.8,299.1 v-2.4 M236.8,37.5 v4.6 M236.8,299.1 v-4.6 M259.8,37.5 v2.4 M259.8,299.1 v-2.4 M293.6,37.5 v2.4 M293.6,299.1 v-2.4 M316.6,37.5 v4.6 M316.6,299.1 v-4.6 M339.6,37.5 v2.4 M339.6,299.1 v-2.4 M362.6,37.5 v4.6 M362.6,299.1 v-4.6 M385.6,37.5 v2.4 M385.6,299.1 v-2.4 M408.6,37.5 v4.6 M408.6,299.1 v-4.6 M75.8,90.1 h4.8 M75.8,142.5 h4.8 M75.8,194.9 h4.8 M75.8,247.3 h4.8 M75.8,63.9 h2.6 M75.8,116.3 h2.6 M75.8,168.7 h2.6 M75.8,221.1 h2.6 M75.8,273.5 h2.6" stroke="#000" stroke-width="1.7" fill="none"/>
</g>
<g id="plot-b">
<g clip-path="url(#cb)">
<path d="M67.8,640.3 L72.9,640.4 L78.0,640.5 L83.1,640.5 L88.2,640.5 L93.3,640.6 L98.4,640.8 L103.5,640.7 L108.6,640.5 L113.7,640.3 L118.8,640.0 L123.9,639.8 L129.0,639.5 L134.1,639.1 L139.2,638.5 L144.3,636.9 L149.4,634.2 L154.5,630.1 L159.6,623.5 L164.7,609.4 L169.8,592.6 L174.9,577.3 L180.0,568.8 L185.1,578.8 L190.2,595.8 L195.3,612.4 L200.4,624.5 L205.5,628.3 L210.6,630.6 L215.7,632.6 L220.8,633.6 L225.9,632.6 L231.0,630.6 L236.1,628.6 L241.2,625.5 L246.3,617.8 L251.4,604.2 L256.5,575.6 L262.9,538.9 L266.7,498.0 L269.4,480.2 L276.9,504.5 L282.0,555.0 L287.1,602.0 L292.2,615.3 L297.3,623.9 L302.4,628.8 L307.5,631.6 L312.6,633.5 L317.7,635.0 L322.8,636.3 L327.9,637.8 L333.0,639.2 L338.1,640.4 L343.2,641.2 L348.3,641.6 L353.4,641.8 L358.5,641.8 L363.6,641.8 L368.7,641.8 L373.8,641.8 L378.9,641.5 L384.0,641.2 L389.1,641.6 L394.2,642.0 L399.3,641.6 L404.4,640.8 L409.5,639.9 L414.6,638.8 L419.7,636.3 L424.8,633.0 L429.9,629.3 L435.0,625.0" fill="none" stroke="#000" stroke-width="1.7" stroke-linejoin="miter"/>
<circle cx="67.8" cy="640.3" r="3.85" fill="#fff" stroke="#000" stroke-width="1.6"/>
<circle cx="78.0" cy="640.5" r="3.85" fill="#fff" stroke="#000" stroke-width="1.6"/>
<circle cx="88.2" cy="640.5" r="3.85" fill="#fff" stroke="#000" stroke-width="1.6"/>
<circle cx="98.4" cy="640.8" r="3.85" fill="#fff" stroke="#000" stroke-width="1.6"/>
<circle cx="108.6" cy="640.5" r="3.85" fill="#fff" stroke="#000" stroke-width="1.6"/>
<circle cx="118.8" cy="640.0" r="3.85" fill="#fff" stroke="#000" stroke-width="1.6"/>
<circle cx="129.0" cy="639.5" r="3.85" fill="#fff" stroke="#000" stroke-width="1.6"/>
<circle cx="139.2" cy="638.5" r="3.85" fill="#fff" stroke="#000" stroke-width="1.6"/>
<circle cx="149.4" cy="634.2" r="3.85" fill="#fff" stroke="#000" stroke-width="1.6"/>
<circle cx="159.6" cy="623.5" r="3.85" fill="#fff" stroke="#000" stroke-width="1.6"/>
<circle cx="169.8" cy="592.6" r="3.85" fill="#fff" stroke="#000" stroke-width="1.6"/>
<circle cx="180.0" cy="568.8" r="3.85" fill="#fff" stroke="#000" stroke-width="1.6"/>
<circle cx="190.2" cy="595.8" r="3.85" fill="#fff" stroke="#000" stroke-width="1.6"/>
<circle cx="200.4" cy="624.5" r="3.85" fill="#fff" stroke="#000" stroke-width="1.6"/>
<circle cx="210.6" cy="630.6" r="3.85" fill="#fff" stroke="#000" stroke-width="1.6"/>
<circle cx="220.8" cy="633.6" r="3.85" fill="#fff" stroke="#000" stroke-width="1.6"/>
<circle cx="231.0" cy="630.6" r="3.85" fill="#fff" stroke="#000" stroke-width="1.6"/>
<circle cx="241.2" cy="625.5" r="3.85" fill="#fff" stroke="#000" stroke-width="1.6"/>
<circle cx="251.4" cy="604.2" r="3.85" fill="#fff" stroke="#000" stroke-width="1.6"/>
<circle cx="261.6" cy="538.7" r="3.85" fill="#fff" stroke="#000" stroke-width="1.6"/>
<circle cx="271.8" cy="473.0" r="3.85" fill="#fff" stroke="#000" stroke-width="1.6"/>
<circle cx="282.0" cy="555.0" r="3.85" fill="#fff" stroke="#000" stroke-width="1.6"/>
<circle cx="292.2" cy="615.3" r="3.85" fill="#fff" stroke="#000" stroke-width="1.6"/>
<circle cx="302.4" cy="628.8" r="3.85" fill="#fff" stroke="#000" stroke-width="1.6"/>
<circle cx="312.6" cy="633.5" r="3.85" fill="#fff" stroke="#000" stroke-width="1.6"/>
<circle cx="322.8" cy="636.3" r="3.85" fill="#fff" stroke="#000" stroke-width="1.6"/>
<circle cx="333.0" cy="639.2" r="3.85" fill="#fff" stroke="#000" stroke-width="1.6"/>
<circle cx="343.2" cy="641.2" r="3.85" fill="#fff" stroke="#000" stroke-width="1.6"/>
<circle cx="353.4" cy="641.8" r="3.85" fill="#fff" stroke="#000" stroke-width="1.6"/>
<circle cx="363.6" cy="641.8" r="3.85" fill="#fff" stroke="#000" stroke-width="1.6"/>
<circle cx="373.8" cy="641.8" r="3.85" fill="#fff" stroke="#000" stroke-width="1.6"/>
<circle cx="384.0" cy="641.2" r="3.85" fill="#fff" stroke="#000" stroke-width="1.6"/>
<circle cx="394.2" cy="642.0" r="3.85" fill="#fff" stroke="#000" stroke-width="1.6"/>
<circle cx="404.4" cy="640.8" r="3.85" fill="#fff" stroke="#000" stroke-width="1.6"/>
<circle cx="414.6" cy="638.8" r="3.85" fill="#fff" stroke="#000" stroke-width="1.6"/>
<circle cx="424.8" cy="633.0" r="3.85" fill="#fff" stroke="#000" stroke-width="1.6"/>
<circle cx="435.0" cy="625.0" r="3.85" fill="#fff" stroke="#000" stroke-width="1.6"/>
<path d="M67.8,628.5 L72.9,628.2 L78.0,628.0 L83.1,628.0 L88.2,628.0 L93.3,628.0 L98.4,628.0 L103.5,628.0 L108.6,628.0 L113.7,628.0 L118.8,628.0 L123.9,627.8 L129.0,627.5 L134.1,627.1 L139.2,626.5 L144.3,625.6 L149.4,624.4 L154.5,623.4 L159.6,621.9 L164.7,618.1 L169.8,612.9 L174.9,606.7 L180.0,602.8 L185.1,604.1 L190.2,606.8 L195.3,611.6 L200.4,616.6 L205.5,619.9 L210.6,621.5 L215.7,621.5 L220.8,621.5 L225.9,621.0 L231.0,619.8 L236.1,617.1 L241.2,612.4 L246.3,605.2 L251.4,592.8 L256.5,559.9 L261.6,511.0 L266.7,456.0 L271.8,395.8 L276.9,410.8 L282.0,473.7 L287.1,552.0 L292.2,587.4 L297.3,604.3 L302.4,613.2 L307.5,617.0 L312.6,619.5 L317.7,621.6 L322.8,623.3 L327.9,624.5 L333.0,625.5 L338.1,626.7 L343.2,627.5 L348.3,627.8 L353.4,628.0 L358.5,628.2 L363.6,628.2 L368.7,628.1 L373.8,628.0 L378.9,628.1 L384.0,628.2 L389.1,628.2 L394.2,628.0 L399.3,627.8 L404.4,627.5 L409.5,626.8 L414.6,625.5 L419.7,623.0 L424.8,620.0 L429.9,617.4 L435.0,615.0" fill="none" stroke="#dc303a" stroke-width="1.6" stroke-linejoin="miter"/>
<path d="M67.8,623.6 l4.9,4.9 l-4.9,4.9 l-4.9,-4.9z" fill="#fff" stroke="#dc303a" stroke-width="1.4"/>
<path d="M78.0,623.1 l4.9,4.9 l-4.9,4.9 l-4.9,-4.9z" fill="#fff" stroke="#dc303a" stroke-width="1.4"/>
<path d="M88.2,623.1 l4.9,4.9 l-4.9,4.9 l-4.9,-4.9z" fill="#fff" stroke="#dc303a" stroke-width="1.4"/>
<path d="M98.4,623.1 l4.9,4.9 l-4.9,4.9 l-4.9,-4.9z" fill="#fff" stroke="#dc303a" stroke-width="1.4"/>
<path d="M108.6,623.1 l4.9,4.9 l-4.9,4.9 l-4.9,-4.9z" fill="#fff" stroke="#dc303a" stroke-width="1.4"/>
<path d="M118.8,623.1 l4.9,4.9 l-4.9,4.9 l-4.9,-4.9z" fill="#fff" stroke="#dc303a" stroke-width="1.4"/>
<path d="M129.0,622.6 l4.9,4.9 l-4.9,4.9 l-4.9,-4.9z" fill="#fff" stroke="#dc303a" stroke-width="1.4"/>
<path d="M139.2,621.6 l4.9,4.9 l-4.9,4.9 l-4.9,-4.9z" fill="#fff" stroke="#dc303a" stroke-width="1.4"/>
<path d="M149.4,619.5 l4.9,4.9 l-4.9,4.9 l-4.9,-4.9z" fill="#fff" stroke="#dc303a" stroke-width="1.4"/>
<path d="M159.6,617.0 l4.9,4.9 l-4.9,4.9 l-4.9,-4.9z" fill="#fff" stroke="#dc303a" stroke-width="1.4"/>
<path d="M169.8,608.0 l4.9,4.9 l-4.9,4.9 l-4.9,-4.9z" fill="#fff" stroke="#dc303a" stroke-width="1.4"/>
<path d="M180.0,597.9 l4.9,4.9 l-4.9,4.9 l-4.9,-4.9z" fill="#fff" stroke="#dc303a" stroke-width="1.4"/>
<path d="M190.2,601.9 l4.9,4.9 l-4.9,4.9 l-4.9,-4.9z" fill="#fff" stroke="#dc303a" stroke-width="1.4"/>
<path d="M200.4,611.7 l4.9,4.9 l-4.9,4.9 l-4.9,-4.9z" fill="#fff" stroke="#dc303a" stroke-width="1.4"/>
<path d="M210.6,616.6 l4.9,4.9 l-4.9,4.9 l-4.9,-4.9z" fill="#fff" stroke="#dc303a" stroke-width="1.4"/>
<path d="M220.8,616.6 l4.9,4.9 l-4.9,4.9 l-4.9,-4.9z" fill="#fff" stroke="#dc303a" stroke-width="1.4"/>
<path d="M231.0,614.9 l4.9,4.9 l-4.9,4.9 l-4.9,-4.9z" fill="#fff" stroke="#dc303a" stroke-width="1.4"/>
<path d="M241.2,607.5 l4.9,4.9 l-4.9,4.9 l-4.9,-4.9z" fill="#fff" stroke="#dc303a" stroke-width="1.4"/>
<path d="M251.4,587.9 l4.9,4.9 l-4.9,4.9 l-4.9,-4.9z" fill="#fff" stroke="#dc303a" stroke-width="1.4"/>
<path d="M261.6,506.1 l4.9,4.9 l-4.9,4.9 l-4.9,-4.9z" fill="#fff" stroke="#dc303a" stroke-width="1.4"/>
<path d="M271.8,390.9 l4.9,4.9 l-4.9,4.9 l-4.9,-4.9z" fill="#fff" stroke="#dc303a" stroke-width="1.4"/>
<path d="M282.0,468.8 l4.9,4.9 l-4.9,4.9 l-4.9,-4.9z" fill="#fff" stroke="#dc303a" stroke-width="1.4"/>
<path d="M292.2,582.5 l4.9,4.9 l-4.9,4.9 l-4.9,-4.9z" fill="#fff" stroke="#dc303a" stroke-width="1.4"/>
<path d="M302.4,608.3 l4.9,4.9 l-4.9,4.9 l-4.9,-4.9z" fill="#fff" stroke="#dc303a" stroke-width="1.4"/>
<path d="M312.6,614.6 l4.9,4.9 l-4.9,4.9 l-4.9,-4.9z" fill="#fff" stroke="#dc303a" stroke-width="1.4"/>
<path d="M322.8,618.4 l4.9,4.9 l-4.9,4.9 l-4.9,-4.9z" fill="#fff" stroke="#dc303a" stroke-width="1.4"/>
<path d="M333.0,620.6 l4.9,4.9 l-4.9,4.9 l-4.9,-4.9z" fill="#fff" stroke="#dc303a" stroke-width="1.4"/>
<path d="M343.2,622.6 l4.9,4.9 l-4.9,4.9 l-4.9,-4.9z" fill="#fff" stroke="#dc303a" stroke-width="1.4"/>
<path d="M353.4,623.1 l4.9,4.9 l-4.9,4.9 l-4.9,-4.9z" fill="#fff" stroke="#dc303a" stroke-width="1.4"/>
<path d="M363.6,623.4 l4.9,4.9 l-4.9,4.9 l-4.9,-4.9z" fill="#fff" stroke="#dc303a" stroke-width="1.4"/>
<path d="M373.8,623.1 l4.9,4.9 l-4.9,4.9 l-4.9,-4.9z" fill="#fff" stroke="#dc303a" stroke-width="1.4"/>
<path d="M384.0,623.4 l4.9,4.9 l-4.9,4.9 l-4.9,-4.9z" fill="#fff" stroke="#dc303a" stroke-width="1.4"/>
<path d="M394.2,623.1 l4.9,4.9 l-4.9,4.9 l-4.9,-4.9z" fill="#fff" stroke="#dc303a" stroke-width="1.4"/>
<path d="M404.4,622.6 l4.9,4.9 l-4.9,4.9 l-4.9,-4.9z" fill="#fff" stroke="#dc303a" stroke-width="1.4"/>
<path d="M414.6,620.6 l4.9,4.9 l-4.9,4.9 l-4.9,-4.9z" fill="#fff" stroke="#dc303a" stroke-width="1.4"/>
<path d="M424.8,615.1 l4.9,4.9 l-4.9,4.9 l-4.9,-4.9z" fill="#fff" stroke="#dc303a" stroke-width="1.4"/>
<path d="M435.0,610.1 l4.9,4.9 l-4.9,4.9 l-4.9,-4.9z" fill="#fff" stroke="#dc303a" stroke-width="1.4"/>
</g>
<rect x="70.2" y="375.0" width="360.6" height="290.0" fill="none" stroke="#000" stroke-width="2.1"/>
<path d="M112.6,375.0 v2.6 M112.6,665.0 v-2.6 M155.0,375.0 v4.8 M155.0,665.0 v-4.8 M197.4,375.0 v2.6 M197.4,665.0 v-2.6 M239.8,375.0 v4.8 M239.8,665.0 v-4.8 M282.2,375.0 v2.6 M282.2,665.0 v-2.6 M324.6,375.0 v4.8 M324.6,665.0 v-4.8 M367.0,375.0 v2.6 M367.0,665.0 v-2.6 M409.4,375.0 v4.8 M409.4,665.0 v-4.8 M70.2,416.1 h5.4 M430.8,416.1 h-5.4 M70.2,457.6 h5.4 M430.8,457.6 h-5.4 M70.2,499.1 h5.4 M430.8,499.1 h-5.4 M70.2,540.6 h5.4 M430.8,540.6 h-5.4 M70.2,582.1 h5.4 M430.8,582.1 h-5.4 M70.2,623.6 h5.4 M430.8,623.6 h-5.4 M70.2,395.3 h2.8 M430.8,395.3 h-2.8 M70.2,436.8 h2.8 M430.8,436.8 h-2.8 M70.2,478.3 h2.8 M430.8,478.3 h-2.8 M70.2,519.8 h2.8 M430.8,519.8 h-2.8 M70.2,561.3 h2.8 M430.8,561.3 h-2.8 M70.2,602.8 h2.8 M430.8,602.8 h-2.8 M70.2,644.3 h2.8 M430.8,644.3 h-2.8" stroke="#000" stroke-width="1.8" fill="none"/>
<rect x="335.9" y="382.4" width="81.7" height="39.2" fill="#fff" stroke="#444" stroke-width="0.6"/>
<path d="M337.7,393.9 H372.3" stroke="#000" stroke-width="1.7"/><circle cx="355" cy="393.9" r="3.6" fill="#fff" stroke="#000" stroke-width="1.6"/>
<path d="M337.7,412.3 H372.3" stroke="#dc303a" stroke-width="1.6"/><path d="M355,407.40000000000003 l4.9,4.9 l-4.9,4.9 l-4.9,-4.9z" fill="#fff" stroke="#dc303a" stroke-width="1.4"/>
<text x="376.7" y="398.5" font-size="13.2" font-family="Liberation Sans, Arial, sans-serif" font-weight="bold">14 nm</text><text x="376.7" y="417" font-size="13.2" font-family="Liberation Sans, Arial, sans-serif" font-weight="bold">22 nm</text>
</g>
<g id="labels">
<text x="98.8" y="315.6" font-size="13.2" text-anchor="middle" font-family="Liberation Sans, Arial, sans-serif" font-weight="bold">26</text>
<text x="144.8" y="315.6" font-size="13.2" text-anchor="middle" font-family="Liberation Sans, Arial, sans-serif" font-weight="bold">28</text>
<text x="190.8" y="315.6" font-size="13.2" text-anchor="middle" font-family="Liberation Sans, Arial, sans-serif" font-weight="bold">30</text>
<text x="236.8" y="315.6" font-size="13.2" text-anchor="middle" font-family="Liberation Sans, Arial, sans-serif" font-weight="bold">32</text>
<text x="316.6" y="315.6" font-size="13.2" text-anchor="middle" font-family="Liberation Sans, Arial, sans-serif" font-weight="bold">50</text>
<text x="362.6" y="315.6" font-size="13.2" text-anchor="middle" font-family="Liberation Sans, Arial, sans-serif" font-weight="bold">52</text>
<text x="408.6" y="315.6" font-size="13.2" text-anchor="middle" font-family="Liberation Sans, Arial, sans-serif" font-weight="bold">54</text>
<text transform="translate(59,168.3) rotate(-90)" font-size="13.4" text-anchor="middle" font-family="Liberation Sans, Arial, sans-serif" font-weight="bold">Intensity (a.u)</text>
<text transform="translate(158.2,36.6) rotate(-45)" font-size="10.1" font-family="Liberation Sans, Arial, sans-serif" font-weight="bold">m-phase</text>
<text transform="translate(199.6,36.6) rotate(-45)" font-size="10.1" font-family="Liberation Sans, Arial, sans-serif" font-weight="bold">o/t phase</text>
<text transform="translate(342.6,36.2) rotate(-45)" font-size="10.1" font-family="Liberation Sans, Arial, sans-serif" font-weight="bold">o/t phase</text>
<text x="424.2" y="84" font-size="13.2" text-anchor="end" fill="#8a1a9c" font-family="Liberation Sans, Arial, sans-serif" font-weight="bold">650°C</text>
<text x="421.7" y="139.5" font-size="13.2" text-anchor="end" fill="#1c7a1c" font-family="Liberation Sans, Arial, sans-serif" font-weight="bold">600°C</text>
<text x="420.6" y="190.3" font-size="13.2" text-anchor="end" fill="#1d5f9c" font-family="Liberation Sans, Arial, sans-serif" font-weight="bold">550°C</text>
<text x="421.6" y="240.3" font-size="13.2" text-anchor="end" fill="#dc1c24" font-family="Liberation Sans, Arial, sans-serif" font-weight="bold">500°C</text>
<text x="428.9" y="267.1" font-size="13.2" text-anchor="end" fill="#4a4a4a" font-family="Liberation Sans, Arial, sans-serif" font-weight="bold">As-deposited</text>
<text x="263.4" y="334.2" font-size="16.2" text-anchor="middle" font-family="Liberation Serif, Times New Roman, serif">2θ(°)</text>
<text x="1.5" y="353.8" font-size="11.13" font-family="Liberation Serif, Times New Roman, serif"><tspan font-family="Liberation Sans, Arial, sans-serif" font-size="10.4">a</tspan> GIXRD patterns of TiN/14nm-thick HZO/TiN stack for the as-deposited sample and samples annealed at different</text>
<text x="180.4" y="367" font-size="11.13" font-family="Liberation Serif, Times New Roman, serif">temperatures up to 650 °C.</text>
<text x="70.2" y="683.2" font-size="14.4" text-anchor="middle" font-family="Liberation Sans, Arial, sans-serif" font-weight="bold">26</text>
<text x="155.0" y="683.2" font-size="14.4" text-anchor="middle" font-family="Liberation Sans, Arial, sans-serif" font-weight="bold">28</text>
<text x="239.8" y="683.2" font-size="14.4" text-anchor="middle" font-family="Liberation Sans, Arial, sans-serif" font-weight="bold">30</text>
<text x="324.6" y="683.2" font-size="14.4" text-anchor="middle" font-family="Liberation Sans, Arial, sans-serif" font-weight="bold">32</text>
<text x="409.4" y="683.2" font-size="14.4" text-anchor="middle" font-family="Liberation Sans, Arial, sans-serif" font-weight="bold">34</text>
<text transform="translate(58,520) rotate(-90)" font-size="15" text-anchor="middle" font-family="Liberation Sans, Arial, sans-serif" font-weight="bold">Intensity (a.u)</text>
<text x="250.3" y="709.9" font-size="15.5" text-anchor="middle" font-family="Liberation Serif, Times New Roman, serif">2θ(°)</text>
<text x="70" y="729" font-size="11.13" font-family="Liberation Serif, Times New Roman, serif"><tspan font-family="Liberation Sans, Arial, sans-serif" font-size="10.4">b</tspan> GIXRD patterns of TiN/(14 nm- or 22nm-thick)HZO/TiN stack annealed at 650 °C.</text>
</g>
</svg>
</body></html>
